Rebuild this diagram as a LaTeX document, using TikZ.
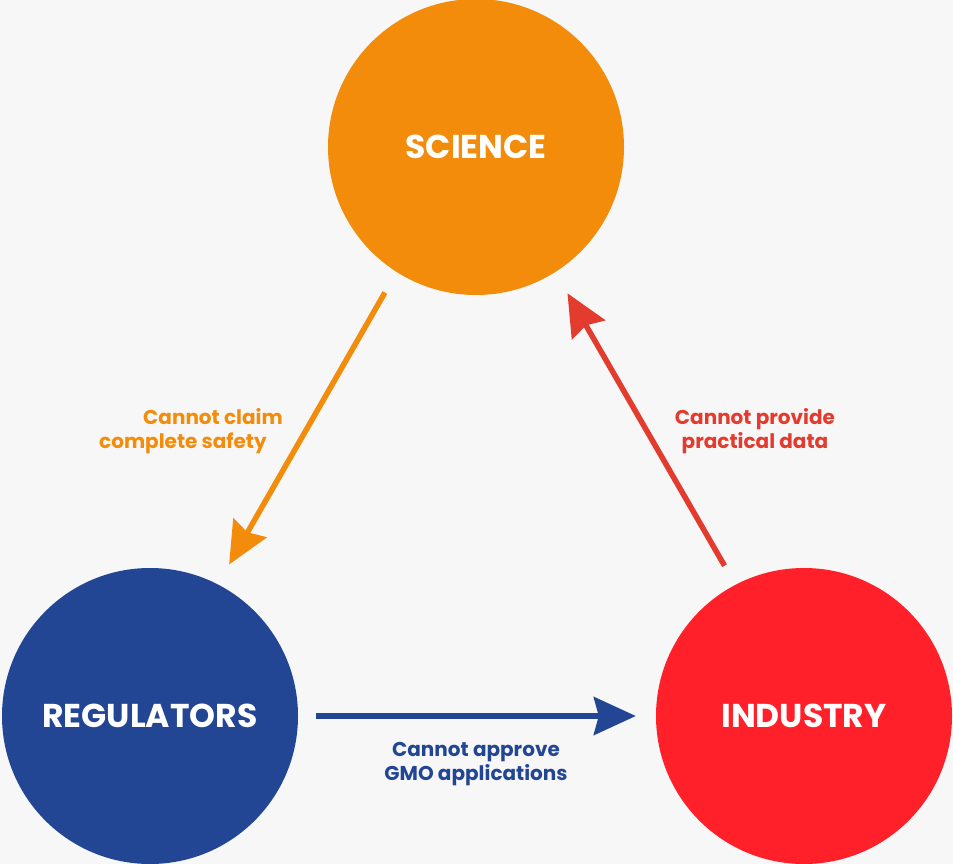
\documentclass[tikz,border=0pt]{standalone}
\usepackage{fontspec}
\setmainfont{Poppins}
\usetikzlibrary{arrows.meta, positioning, calc}
\definecolor{SciOrange}{rgb}{0.95, 0.55, 0.04}
\definecolor{RegBlue}{rgb}{0.137, 0.275, 0.58}
\definecolor{IndRed}{rgb}{1.0, 0.125, 0.16}
\definecolor{ArrowRed}{rgb}{0.89, 0.23, 0.18}
\definecolor{BgGray}{rgb}{0.969, 0.969, 0.969}
\tikzset{
  actor/.style={circle, minimum size=296pt, inner sep=0pt, text=white,
    font=\fontsize{33}{36}\selectfont\bfseries},
  flow/.style={line width=5.5pt, -{Stealth[length=42pt, width=38pt, inset=5pt]}},
  lbl/.style={inner sep=0pt, font=\fontsize{20}{24}\selectfont\bfseries}
}

\begin{document}
\begin{tikzpicture}[x=1pt, y=-1pt]

\fill[BgGray] (0,0) rectangle (953,864);
\useasboundingbox (0,0) rectangle (953,864);

% circulos
\foreach \n/\x/\y/\c/\t in {%
    sci/476/147/SciOrange/SCIENCE,
    reg/150/716/RegBlue/REGULATORS,
    ind/804/716/IndRed/INDUSTRY}{%
    \node[actor, fill=\c] (\n) at (\x,\y) {\t};
}

% flechas
\draw[flow, SciOrange, shorten <=23pt, shorten >=23pt,
    transform canvas={xshift=-6pt, yshift=3pt}] (sci) -- (reg);
\draw[flow, ArrowRed, shorten <=23pt, shorten >=23pt,
    transform canvas={xshift=6pt, yshift=2pt}] (ind) -- (sci);
\draw[flow, RegBlue, shorten <=18pt, shorten >=20pt] (reg) -- (ind);

% etiquetas
\node[lbl, text=SciOrange, align=left, anchor=west] (safety) at (99,431)
    {\hspace*{44pt}Cannot claim\\complete safety};
\node[lbl, text=ArrowRed, align=center] (data) at (755,431)
    {Cannot provide\\practical data};
\node[lbl, text=RegBlue, align=center] (approve) at (476,764)
    {Cannot approve\\GMO applications};

\end{tikzpicture}
\end{document}
